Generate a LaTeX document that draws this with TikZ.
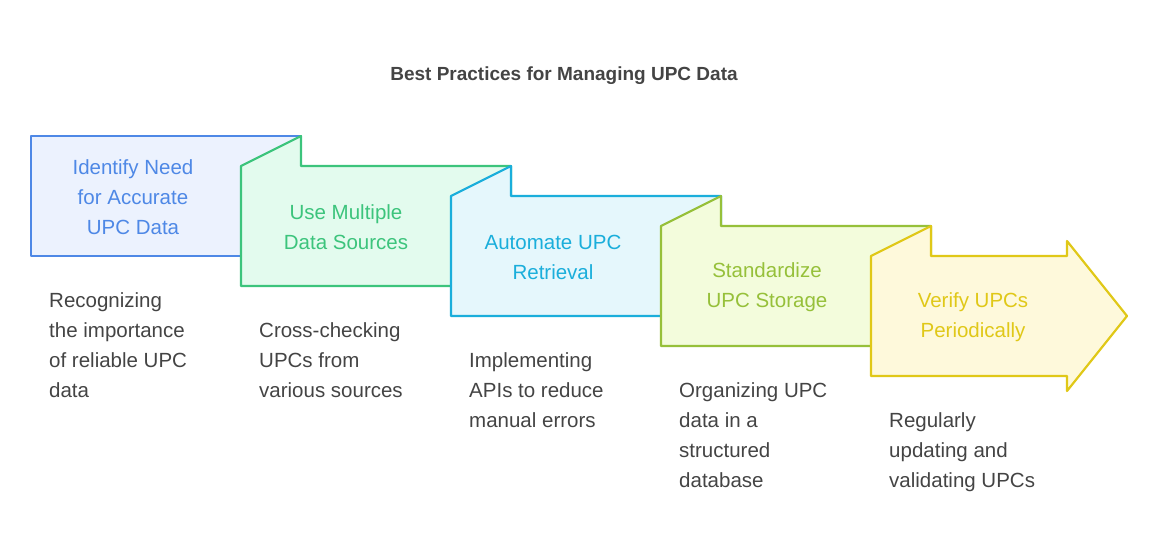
\documentclass[tikz,border=0pt]{standalone}
\usepackage{fontspec}
\setmainfont{Liberation Sans}
\usepackage{tikz}
\usetikzlibrary{positioning}
\definecolor{blueS}{HTML}{4E88E6}\definecolor{blueF}{HTML}{ECF2FE}
\definecolor{greenS}{HTML}{3CC47C}\definecolor{greenF}{HTML}{E3FBEE}
\definecolor{cyanS}{HTML}{1AAEDB}\definecolor{cyanF}{HTML}{E5F7FC}
\definecolor{limeS}{HTML}{96C03A}\definecolor{limeF}{HTML}{F3FCDC}
\definecolor{yelS}{HTML}{E0C818}\definecolor{yelF}{HTML}{FEF9DB}
\definecolor{txt}{HTML}{444444}
\begin{document}
\begin{tikzpicture}
                        [x=1pt, y=-1pt,
                         stage/.style={line width=2.2pt, line join=round},
                         head/.style={align=center, font=\fontsize{20.5}{30}\selectfont},
                         desc/.style={align=left, anchor=north west, text=txt, inner sep=0pt,
                                      font=\fontsize{20.5}{30}\selectfont}]

                        \useasboundingbox (0,0) rectangle (1158,558);
                        \node[font=\fontsize{19}{22}\selectfont\bfseries, text=txt] (title) at (564,76) {Best Practices for Managing UPC Data};

                        % stages, back to front
                        \draw[stage, draw=blueS, fill=blueF] (31,136) rectangle (301,256);
                        \draw[stage, draw=greenS, fill=greenF] (241,166) -- (301,136) -- (301,166) -- (511,166) -- (511,286) -- (241,286) -- cycle;
                        \draw[stage, draw=cyanS, fill=cyanF] (451,196) -- (511,166) -- (511,196) -- (721,196) -- (721,316) -- (451,316) -- cycle;
                        \draw[stage, draw=limeS, fill=limeF] (661,226) -- (721,196) -- (721,226) -- (931,226) -- (931,346) -- (661,346) -- cycle;
                        \draw[stage, draw=yelS, fill=yelF] (871,256) -- (931,226) -- (931,256) -- (1067,256) -- (1067,241) -- (1127,316) -- (1067,391) -- (1067,376) -- (871,376) -- cycle;

                        \node[head, text=blueS] (identify) at (133,197) {Identify Need\\for Accurate\\UPC Data};
                        \node[head, text=greenS] (sources) at (346,227) {Use Multiple\\Data Sources};
                        \node[head, text=cyanS] (automate) at (553,257) {Automate UPC\\Retrieval};
                        \node[head, text=limeS] (standard) at (767,287) {Standardize\\UPC Storage};
                        \node[head, text=yelS] (verify) at (973,317) {Verify UPCs\\Periodically};

                        \node[desc] (d1) at (49,292) {Recognizing\\the importance\\of reliable UPC\\data};
                        \node[desc] (d2) at (259,322) {Cross-checking\\UPCs from\\various sources};
                        \node[desc] (d3) at (469,352) {Implementing\\APIs to reduce\\manual errors};
                        \node[desc] (d4) at (679,382) {Organizing UPC\\data in a\\structured\\database};
                        \node[desc] (d5) at (889,412) {Regularly\\updating and\\validating UPCs};
                    \end{tikzpicture}
\end{document}
